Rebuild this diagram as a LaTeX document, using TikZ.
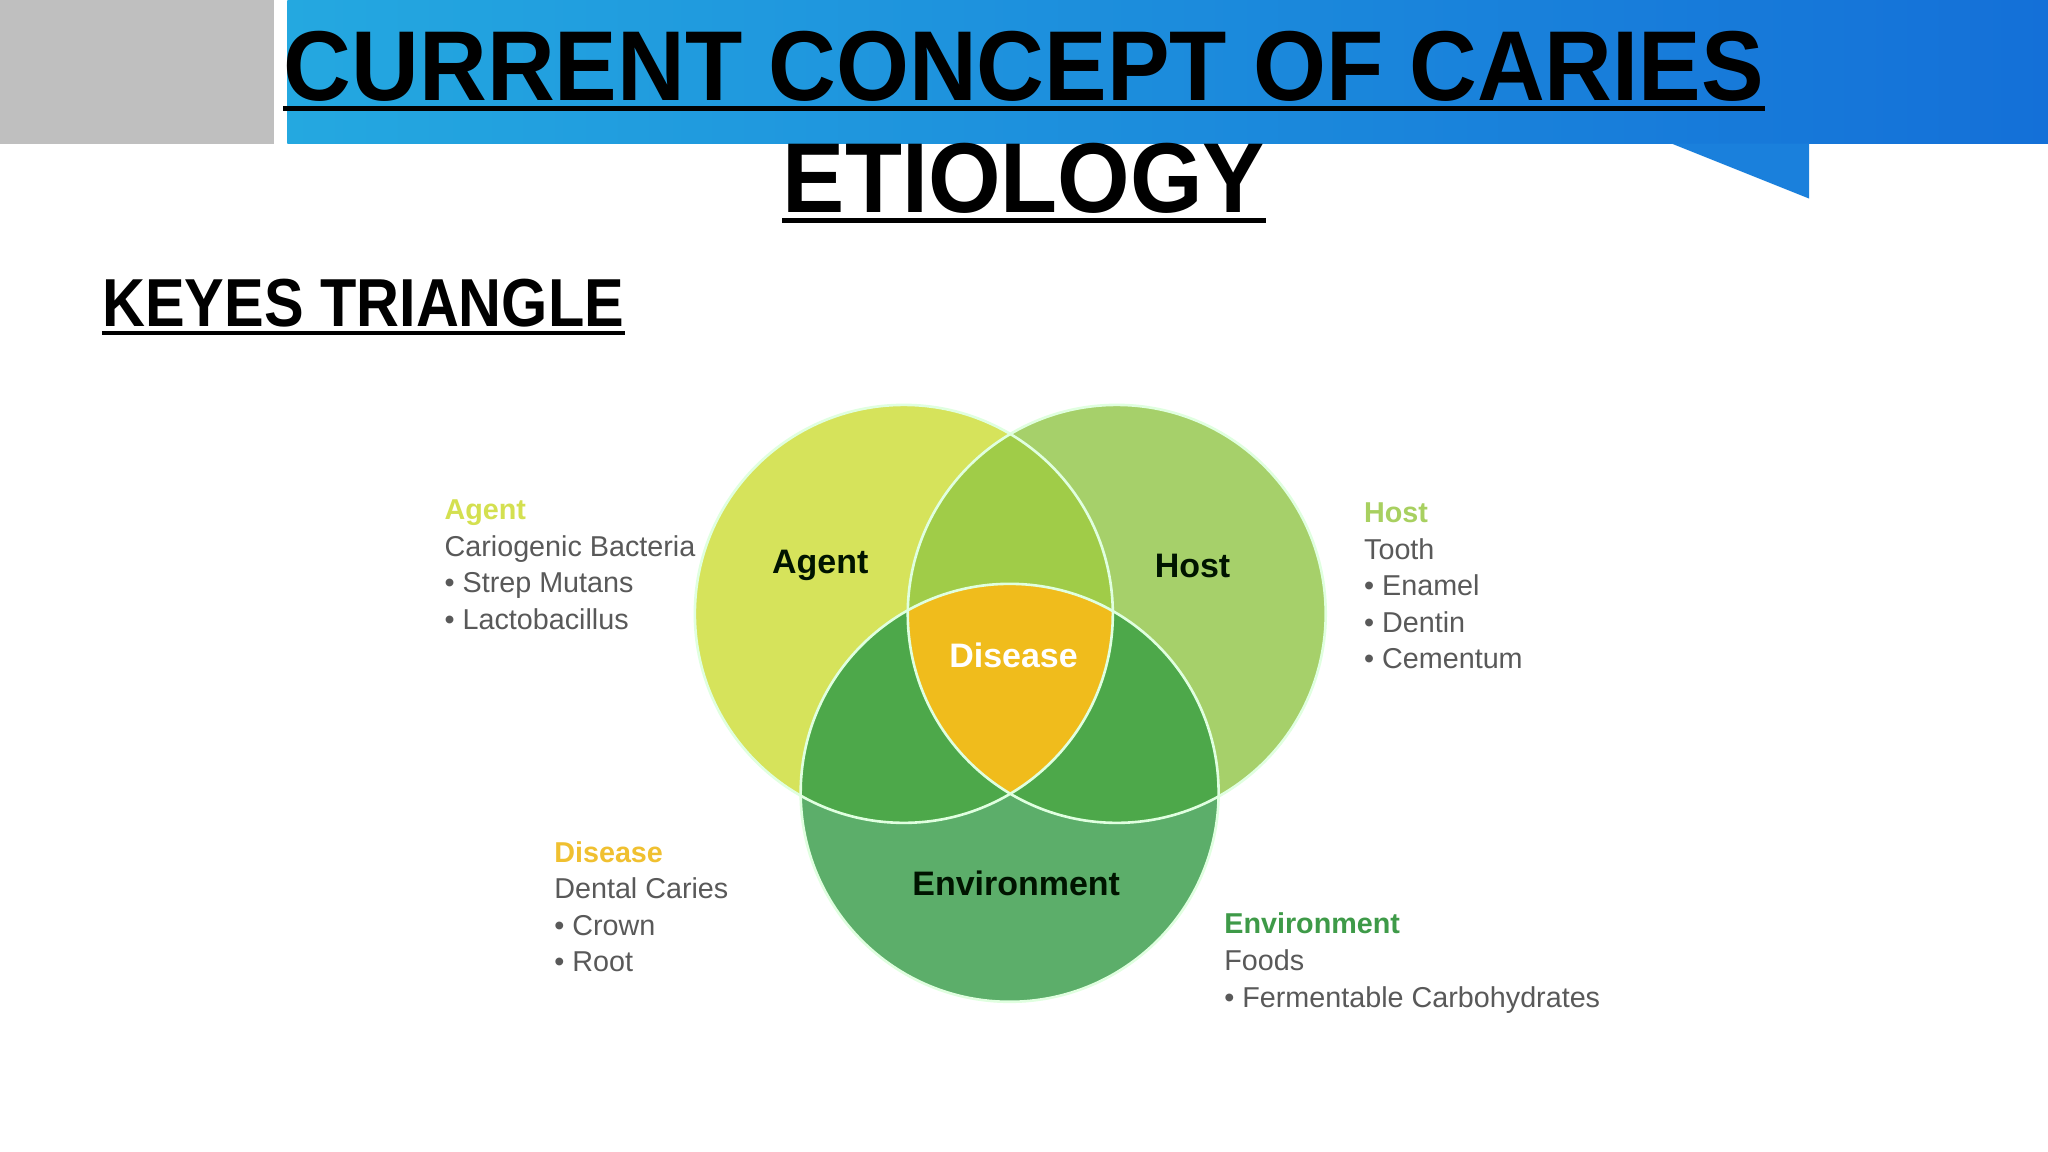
\documentclass[tikz,border=0pt]{standalone}
\usepackage{fontspec}
\setmainfont{Liberation Sans}
\begin{document}
\begin{tikzpicture}[x=0.5pt,y=-0.5pt,
  side/.style={anchor=base west,font=\fontsize{11}{13}\selectfont,text=black!65,inner sep=0pt},
  sidehead/.style={side,font=\fontsize{11}{13}\selectfont\bfseries},
  clab/.style={font=\fontsize{13}{15}\selectfont\bfseries,text=black!80!green!40!black},
  ring/.style={draw=white!70!green!40,line width=1pt},
  ttl/.style={anchor=base,inner sep=0pt,font=\fontsize{38}{40}\selectfont\bfseries},
  uline/.style={line width=2pt}]
\useasboundingbox (0,0) rectangle (1568,882);
\fill[white] (0,0) rectangle (1568,882);
\fill[black!25] (0,0) rectangle (210,110);
\definecolor{bL}{HTML}{24A8E0}
\definecolor{bR}{HTML}{1470D8}
\definecolor{bT}{HTML}{1A80DC}
\shade[left color=bL,right color=bR] (220,0) rectangle (1568,110);
\fill[bT] (1280,110) -- (1385,110) -- (1385,152) -- cycle;
\node[ttl,xscale=0.945] (t1) at (784,77) {CURRENT CONCEPT OF CARIES};
\node[ttl,xscale=0.94] (t2) at (784,163) {ETIOLOGY};
\draw[uline] ([yshift=-3pt]t1.base west) -- ([yshift=-3pt]t1.base east);
\draw[uline] ([yshift=-3pt]t2.base west) -- ([yshift=-3pt]t2.base east);
\node[anchor=base west,xscale=0.875,inner sep=0pt,font=\fontsize{26}{28}\selectfont\bfseries] (kt) at (78,250) {KEYES TRIANGLE};
\draw[line width=1.4pt] ([yshift=-2.5pt]kt.base west) -- ([yshift=-2.5pt]kt.base east);
% circles
\def\ca{(692,470) circle (160)}
\def\ch{(855,470) circle (160)}
\def\ce{(773,607) circle (160)}
\definecolor{cA}{HTML}{D6E35B}
\definecolor{cH}{HTML}{A6D06A}
\definecolor{cE}{HTML}{5CAE6A}
\definecolor{cAH}{HTML}{A0CC48}
\definecolor{cAE}{HTML}{4DA84A}
\definecolor{cD}{HTML}{F0BC1C}
\fill[cA] \ca;
\fill[cH] \ch;
\fill[cE] \ce;
\begin{scope}\clip \ca; \fill[cAH] \ch; \fill[cAE] \ce; \end{scope}
\begin{scope}\clip \ch; \fill[cAE] \ce; \end{scope}
\begin{scope}\clip \ca; \clip \ch; \fill[cD] \ce; \end{scope}
\draw[ring] \ca; \draw[ring] \ch; \draw[ring] \ce;
\node[clab] (la) at (628,433) {Agent};
\node[clab] (lh) at (913,433) {Host};
\node[clab,text=white] (ld) at (776,502) {Disease};
\node[clab] (le) at (778,676) {Environment};
% side texts
\definecolor{tA}{HTML}{D4E050}
\definecolor{tD}{HTML}{F0C030}
\definecolor{tE}{HTML}{3E9A48}
\definecolor{tH}{HTML}{A8D060}
\node[sidehead,text=tA] (a0) at (340,398) {Agent};
\node[side] (a1) at (340,426) {Cariogenic Bacteria};
\node[side] (a2) at (340,454) {\textbullet\ Strep Mutans};
\node[side] (a3) at (340,482) {\textbullet\ Lactobacillus};
\node[sidehead,text=tH] (h0) at (1044,400) {Host};
\node[side] (h1) at (1044,428) {Tooth};
\node[side] (h2) at (1044,456) {\textbullet\ Enamel};
\node[side] (h3) at (1044,484) {\textbullet\ Dentin};
\node[side] (h4) at (1044,512) {\textbullet\ Cementum};
\node[sidehead,text=tD] (d0) at (424,660) {Disease};
\node[side] (d1) at (424,688) {Dental Caries};
\node[side] (d2) at (424,716) {\textbullet\ Crown};
\node[side] (d3) at (424,744) {\textbullet\ Root};
\node[sidehead,text=tE] (e0) at (937,715) {Environment};
\node[side] (e1) at (937,743) {Foods};
\node[side] (e2) at (937,771) {\textbullet\ Fermentable Carbohydrates};
\end{tikzpicture}
\end{document}
